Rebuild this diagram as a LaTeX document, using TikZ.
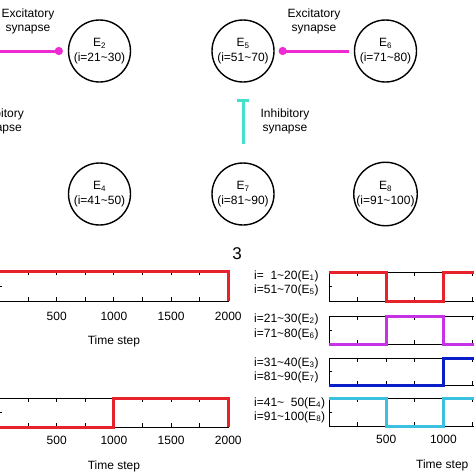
\documentclass[tikz,border=0pt]{standalone}
\usepackage{fontspec}
\setmainfont{Liberation Sans}
\usetikzlibrary{arrows.meta}
\definecolor{sigred}{HTML}{E8222A}
\definecolor{sigmag}{HTML}{C832E6}
\definecolor{sigblue}{HTML}{0A1EC8}
\definecolor{sigcyan}{HTML}{3CC0E0}
\definecolor{synmag}{HTML}{EE2AD2}
\definecolor{inhcol}{HTML}{44E0CC}
\newcommand\tildech{\textasciitilde}
\newcommand\plotframe[2]{%
  \draw[framebox] (0,#1) rectangle (2000,#2);
  \foreach \t in {250,500,...,1750} {
    \draw[framebox] (\t,#1) -- ++(0,4);
    \draw[framebox] (\t,#2) -- ++(0,-4);
  }
  \draw[framebox] (0,{(#1+#2)/2}) -- ++(26,0);
}
\tikzset{
  txt/.style={font=\fontsize{12}{14}\selectfont, inner sep=0pt, align=center},
  neuron/.style={draw, circle, line width=1.4pt, minimum size=62pt, inner sep=0pt,
    align=center, font=\fontsize{12}{15}\selectfont},
  excit/.style={draw=synmag, line width=3pt, -{Circle[length=8pt,width=8pt]}},
  inhib/.style={draw=inhcol, line width=3pt, -{Bar[width=12pt]}},
  framebox/.style={line width=0.9pt, black},
  sig/.style={line width=3pt},
}
\begin{document}
\begin{tikzpicture}[x=1pt,y=-1pt]
\useasboundingbox (0,0) rectangle (474,474);
\clip (0,0) rectangle (474,474);
% ---------- neurons ----------
\node[neuron] (E2) at (99.5,51) {E\textsubscript{2}\\(i=21\tildech30)};
\node[neuron] (E5) at (243,51) {E\textsubscript{5}\\(i=51\tildech70)};
\node[neuron] (E6) at (385.5,51) {E\textsubscript{6}\\(i=71\tildech80)};
\node[neuron] (E4) at (99.5,194) {E\textsubscript{4}\\(i=41\tildech50)};
\node[neuron] (E7) at (243,194) {E\textsubscript{7}\\(i=81\tildech90)};
\node[neuron] (E8) at (385.5,194) {E\textsubscript{8}\\(i=91\tildech100)};
% ---------- synapses ----------
\coordinate (exL) at (-20,51);
\draw[excit, shorten >=5pt] (exL) -- (E2);
\draw[excit, shorten <=5pt, shorten >=4pt] (E6) -- (E5);
\draw[inhib, shorten <=18pt, shorten >=16pt] (E7) -- (E5);
\node[txt] (exc1) at (28,21) {Excitatory\\synapse};
\node[txt] (exc2) at (314,21) {Excitatory\\synapse};
\node[txt] (inh0) at (-0.5,121) {Inhibitory\\synapse};
\node[txt] (inh1) at (285,121) {Inhibitory\\synapse};
% ---------- panel label ----------
\node[font=\fontsize{17}{20}\selectfont, inner sep=0pt] (lab3) at (237,254) {3};
% ---------- left plots ----------
\begin{scope}[xshift=-0.5pt, x=0.1144pt]
  \plotframe{271}{301}
  \draw[sig, sigred] (0,271) -- (2000,271) -- (2000,301);
  \foreach \t in {500,1000,1500,2000} \node[txt] (la\t) at (\t,316) {\t};
  \node[txt] (lta) at (1000,341) {Time step};
  \plotframe{398}{427}
  \draw[sig, sigred] (0,427) -- (1000,427) -- (1000,398) -- (2000,398) -- (2000,427);
  \foreach \t in {500,1000,1500,2000} \node[txt] (lb\t) at (\t,440) {\t};
  \node[txt] (ltb) at (1000,466) {Time step};
\end{scope}
% ---------- right plots ----------
\begin{scope}[xshift=329pt, x=0.1144pt]
  \plotframe{272}{301}
  \draw[sig, sigred] (0,272) -- (500,272) -- (500,301) -- (1000,301) -- (1000,272) -- (1500,272);
  \plotframe{316}{344}
  \draw[sig, sigmag] (0,344) -- (500,344) -- (500,316) -- (1000,316) -- (1000,344) -- (1500,344);
  \plotframe{358}{385}
  \draw[sig, sigblue] (0,385) -- (1000,385) -- (1000,358) -- (1500,358);
  \plotframe{398}{426}
  \draw[sig, sigcyan] (0,398) -- (500,398) -- (500,426) -- (1000,426) -- (1000,398) -- (1500,398);
  \foreach \t in {500,1000} \node[txt] (ra\t) at (\t,439) {\t};
  \node[txt] (rt) at (990,465) {Time step};
\end{scope}
% ---------- right labels ----------
\begin{scope}[every node/.style={txt, anchor=west}]
  \node (r1a) at (254,276) {i=\ \ 1\tildech20(E\textsubscript{1})};
  \node (r1b) at (254,290) {i=51\tildech70(E\textsubscript{5})};
  \node (r2a) at (254,319) {i=21\tildech30(E\textsubscript{2})};
  \node (r2b) at (254,334) {i=71\tildech80(E\textsubscript{6})};
  \node (r3a) at (254,363) {i=31\tildech40(E\textsubscript{3})};
  \node (r3b) at (254,377) {i=81\tildech90(E\textsubscript{7})};
  \node (r4a) at (254,403) {i=41\tildech\ \ 50(E\textsubscript{4})};
  \node (r4b) at (254,417) {i=91\tildech100(E\textsubscript{8})};
\end{scope}
\end{tikzpicture}
\end{document}
